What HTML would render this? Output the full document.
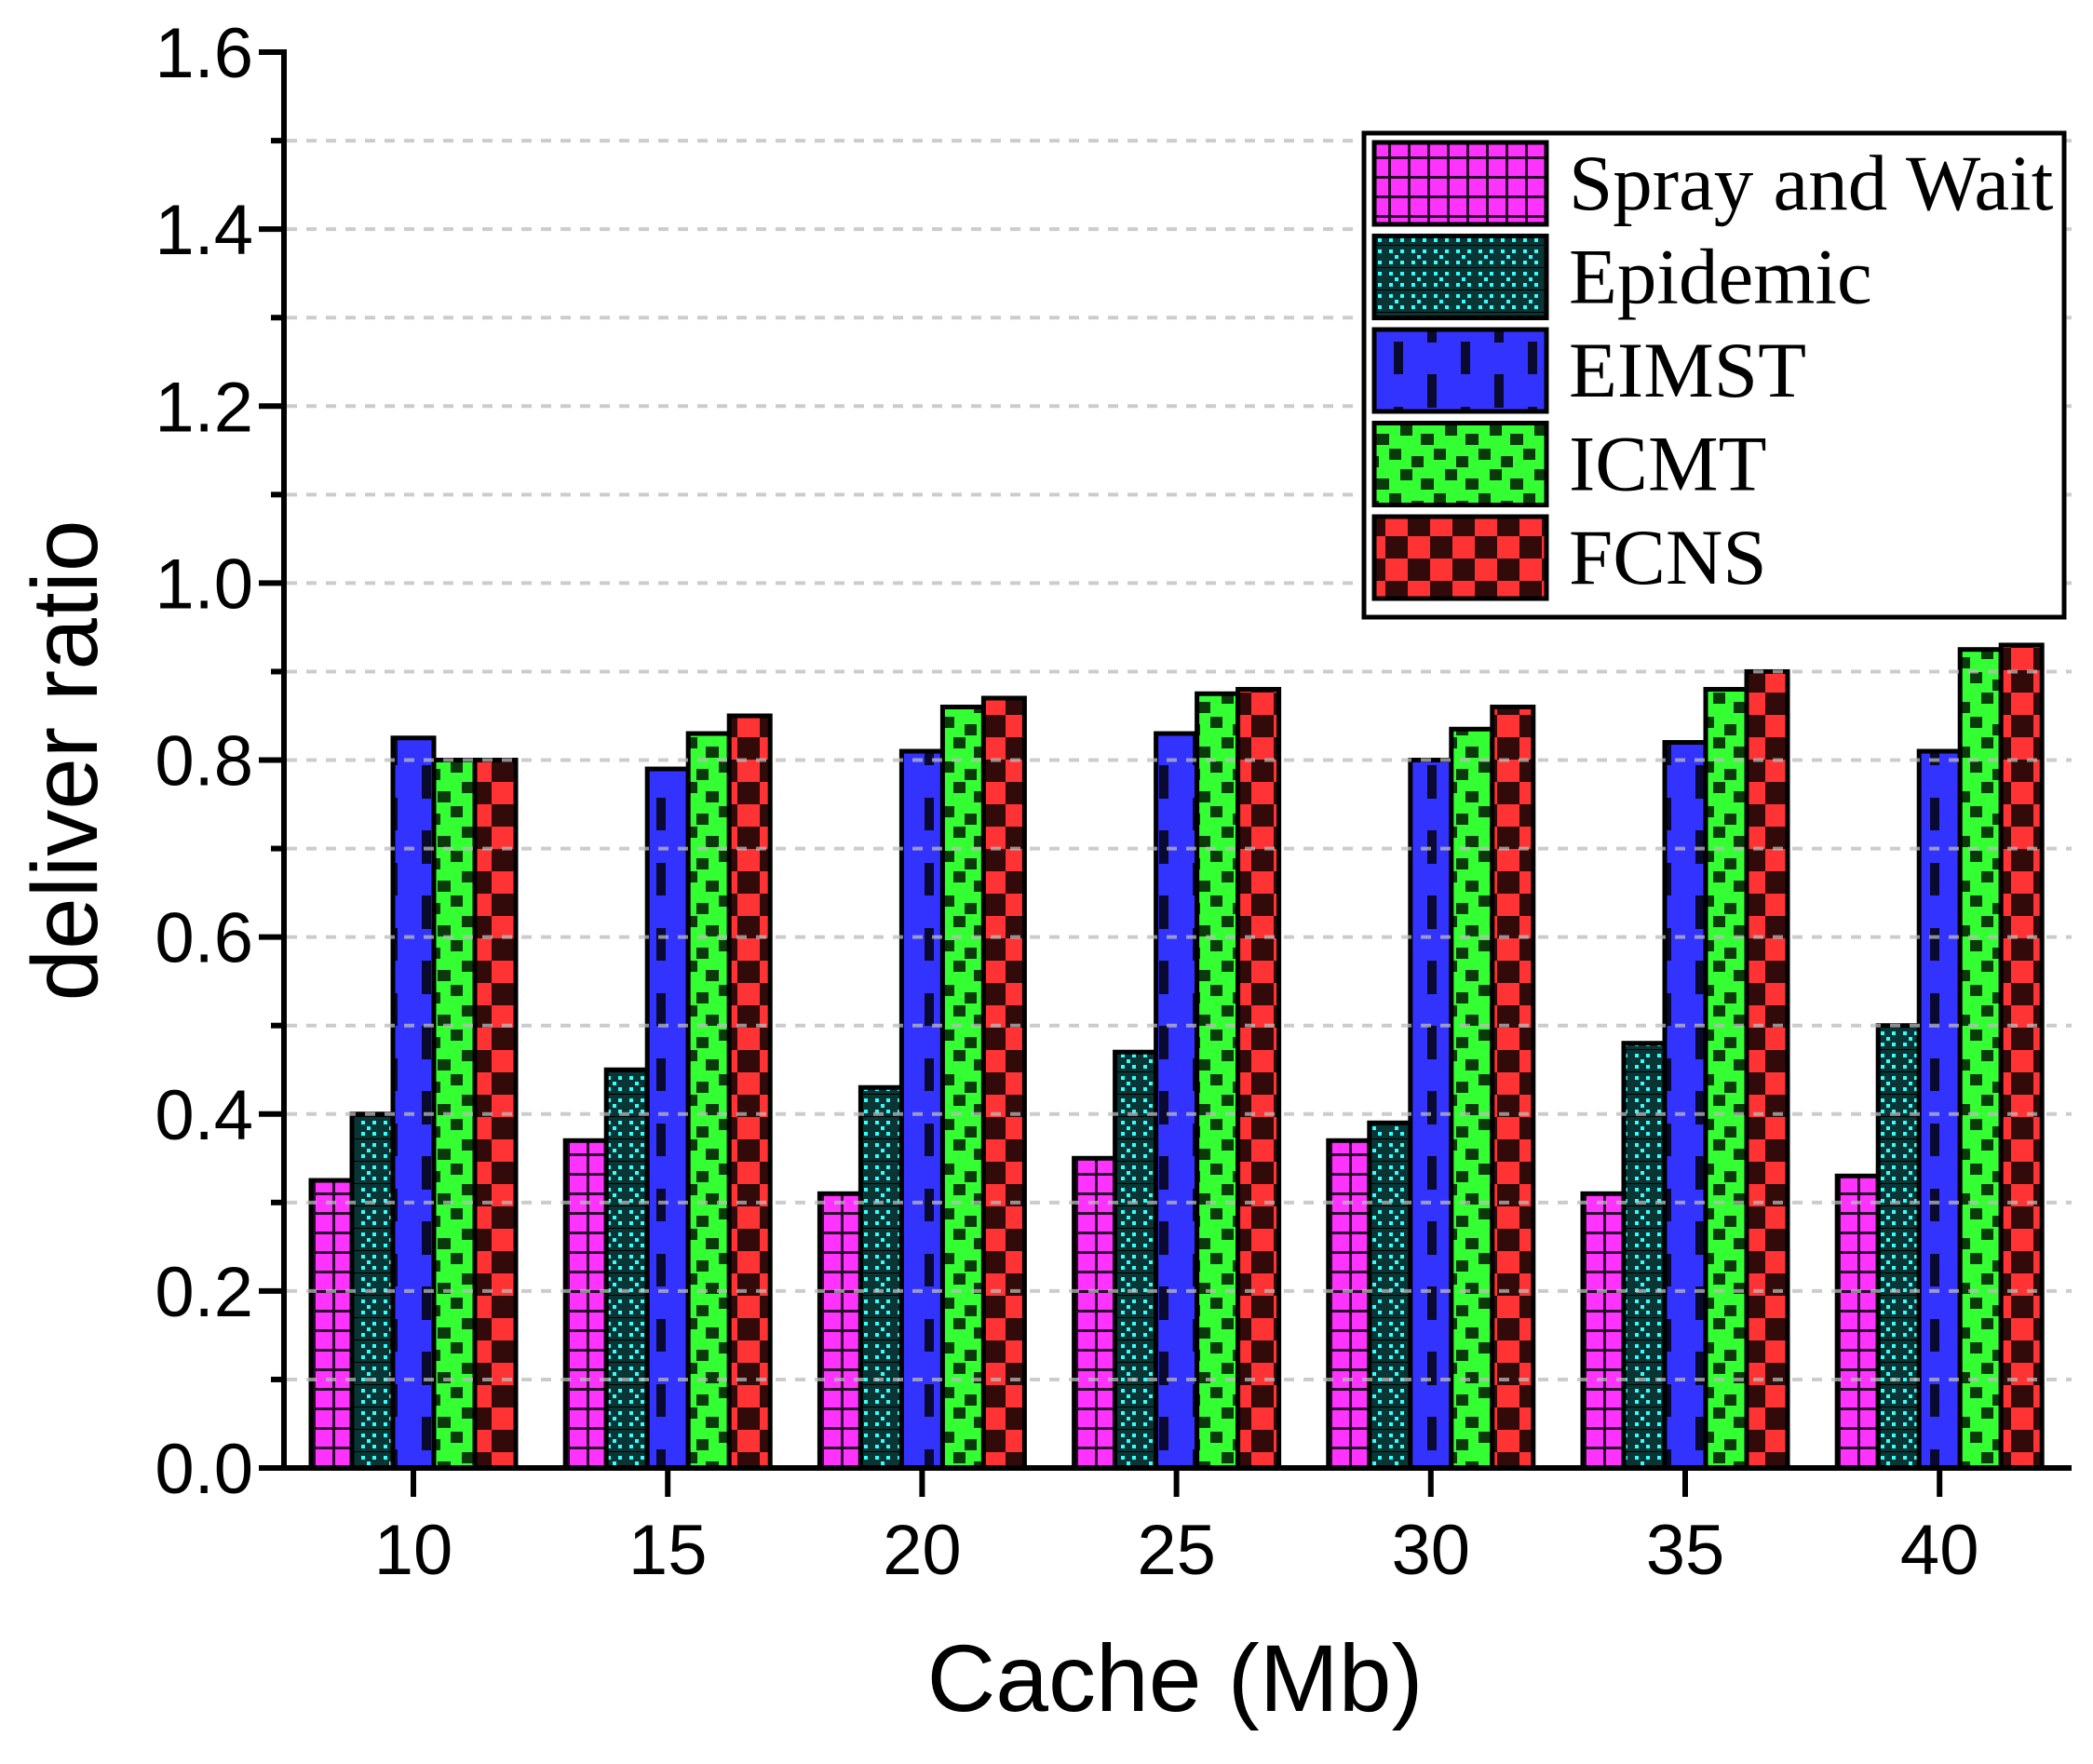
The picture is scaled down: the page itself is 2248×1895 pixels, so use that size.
<!DOCTYPE html><html><head><style>body{margin:0;background:#fff}svg{display:block}</style></head><body>
<svg id="s" width="2248" height="1895" viewBox="0 0 2248 1895" xmlns="http://www.w3.org/2000/svg">
<defs>
<pattern id="p0" width="21" height="21" patternUnits="userSpaceOnUse"><rect width="21" height="21" fill="#ff33ff"/><rect x="0" y="0" width="3" height="21" fill="#2a0a2a"/><rect x="0" y="0" width="21" height="3" fill="#2a0a2a"/></pattern>
<pattern id="p1" width="24" height="24" patternUnits="userSpaceOnUse"><rect width="24" height="24" fill="#0a3535"/><rect x="4" y="4" width="4" height="4" fill="#33ffff"/><rect x="16" y="4" width="4" height="4" fill="#33ffff"/><rect x="10" y="10" width="4" height="4" fill="#33ffff"/><rect x="4" y="16" width="4" height="4" fill="#33ffff"/><rect x="16" y="16" width="4" height="4" fill="#33ffff"/><rect x="0" y="23" width="24" height="1" fill="#000"/></pattern>
<pattern id="p2" width="72" height="70" patternUnits="userSpaceOnUse"><rect width="72" height="70" fill="#3333ff"/><rect x="21" y="0" width="10" height="18" fill="#0a0a30"/><rect x="21" y="52" width="10" height="18" fill="#0a0a30"/><rect x="57" y="17" width="10" height="35" fill="#0a0a30"/></pattern>
<pattern id="p3" width="48" height="48" patternUnits="userSpaceOnUse"><rect width="48" height="48" fill="#33ff33"/><rect x="4" y="2" width="13" height="12" fill="#0a3a0a"/><rect x="28" y="10" width="13" height="12" fill="#0a3a0a"/><rect x="16" y="24" width="13" height="12" fill="#0a3a0a"/><rect x="38" y="34" width="10" height="12" fill="#0a3a0a"/><rect x="0" y="34" width="4" height="12" fill="#0a3a0a"/></pattern>
<pattern id="p4" width="48" height="48" patternUnits="userSpaceOnUse"><rect width="48" height="48" fill="#ff3333"/><rect width="24" height="24" fill="#330a0a"/><rect x="24" y="24" width="24" height="24" fill="#330a0a"/></pattern>
</defs>
<g id="bars"></g>
<g id="grid" stroke="#bbb" stroke-width="4" stroke-dasharray="11,10" opacity="0.75"></g>
<g id="axes" stroke="#000" stroke-width="6"></g>
<g id="txt" font-family="Liberation Sans, sans-serif" font-size="76" fill="#000"></g>
<text x="1262" y="1838" font-family="Liberation Sans, sans-serif" font-size="102" text-anchor="middle">Cache (Mb)</text>
<text transform="translate(104,817) rotate(-90)" font-family="Liberation Sans, sans-serif" font-size="100" text-anchor="middle">deliver ratio</text>
<rect x="1465" y="143" width="752" height="520" fill="#fff" stroke="#000" stroke-width="5"/>
<g id="leg"></g>
</svg>
<script>
var ns="http://www.w3.org/2000/svg";
function el(p,t,a,txt){var e=document.createElementNS(ns,t);for(var k in a)e.setAttribute(k,a[k]);if(txt)e.textContent=txt;document.getElementById(p).appendChild(e);}
var d=[[.325,.40,.825,.80,.80],[.37,.45,.79,.83,.85],[.31,.43,.81,.86,.87],[.35,.47,.83,.875,.88],[.37,.39,.80,.835,.86],[.31,.48,.82,.88,.90],[.33,.50,.81,.925,.93]];
function Y(v){return 1577-v*950.6;}
for(var i=0;i<7;i++){var c=444+273.2*i;for(var j=0;j<5;j++){var x=c-110+44*j,y=Y(d[i][j]);el("bars","rect",{x:x,y:y,width:44,height:1577-y,fill:"url(#p"+j+")",stroke:"#000","stroke-width":5});}
el("axes","line",{x1:c,y1:1577,x2:c,y2:1608});el("txt","text",{x:c,y:1691,"text-anchor":"middle"},String(10+5*i));}
for(var k=1;k<=15;k++){el("grid","line",{x1:308,x2:2225,y1:Y(k/10),y2:Y(k/10)});}
for(var k=0;k<=16;k++){var y=Y(k/10);el("axes","line",{x1:k%2?291:278,x2:305,y1:y,y2:y});if(k%2==0)el("txt","text",{x:272,y:y+27,"text-anchor":"end"},(k/10).toFixed(1));}
el("axes","line",{x1:305,y1:53,x2:305,y2:1580});el("axes","line",{x1:302,y1:1577,x2:2225,y2:1577});
var n=["Spray and Wait","Epidemic","EIMST","ICMT","FCNS"];
for(var j=0;j<5;j++){var y=153+100.5*j;el("leg","rect",{x:1476,y:y,width:185,height:88,fill:"url(#p"+j+")",stroke:"#000","stroke-width":5});el("leg","text",{x:1685,y:y+72,"font-family":"Liberation Serif, serif","font-size":85},n[j]);}
</script>
</body></html>
